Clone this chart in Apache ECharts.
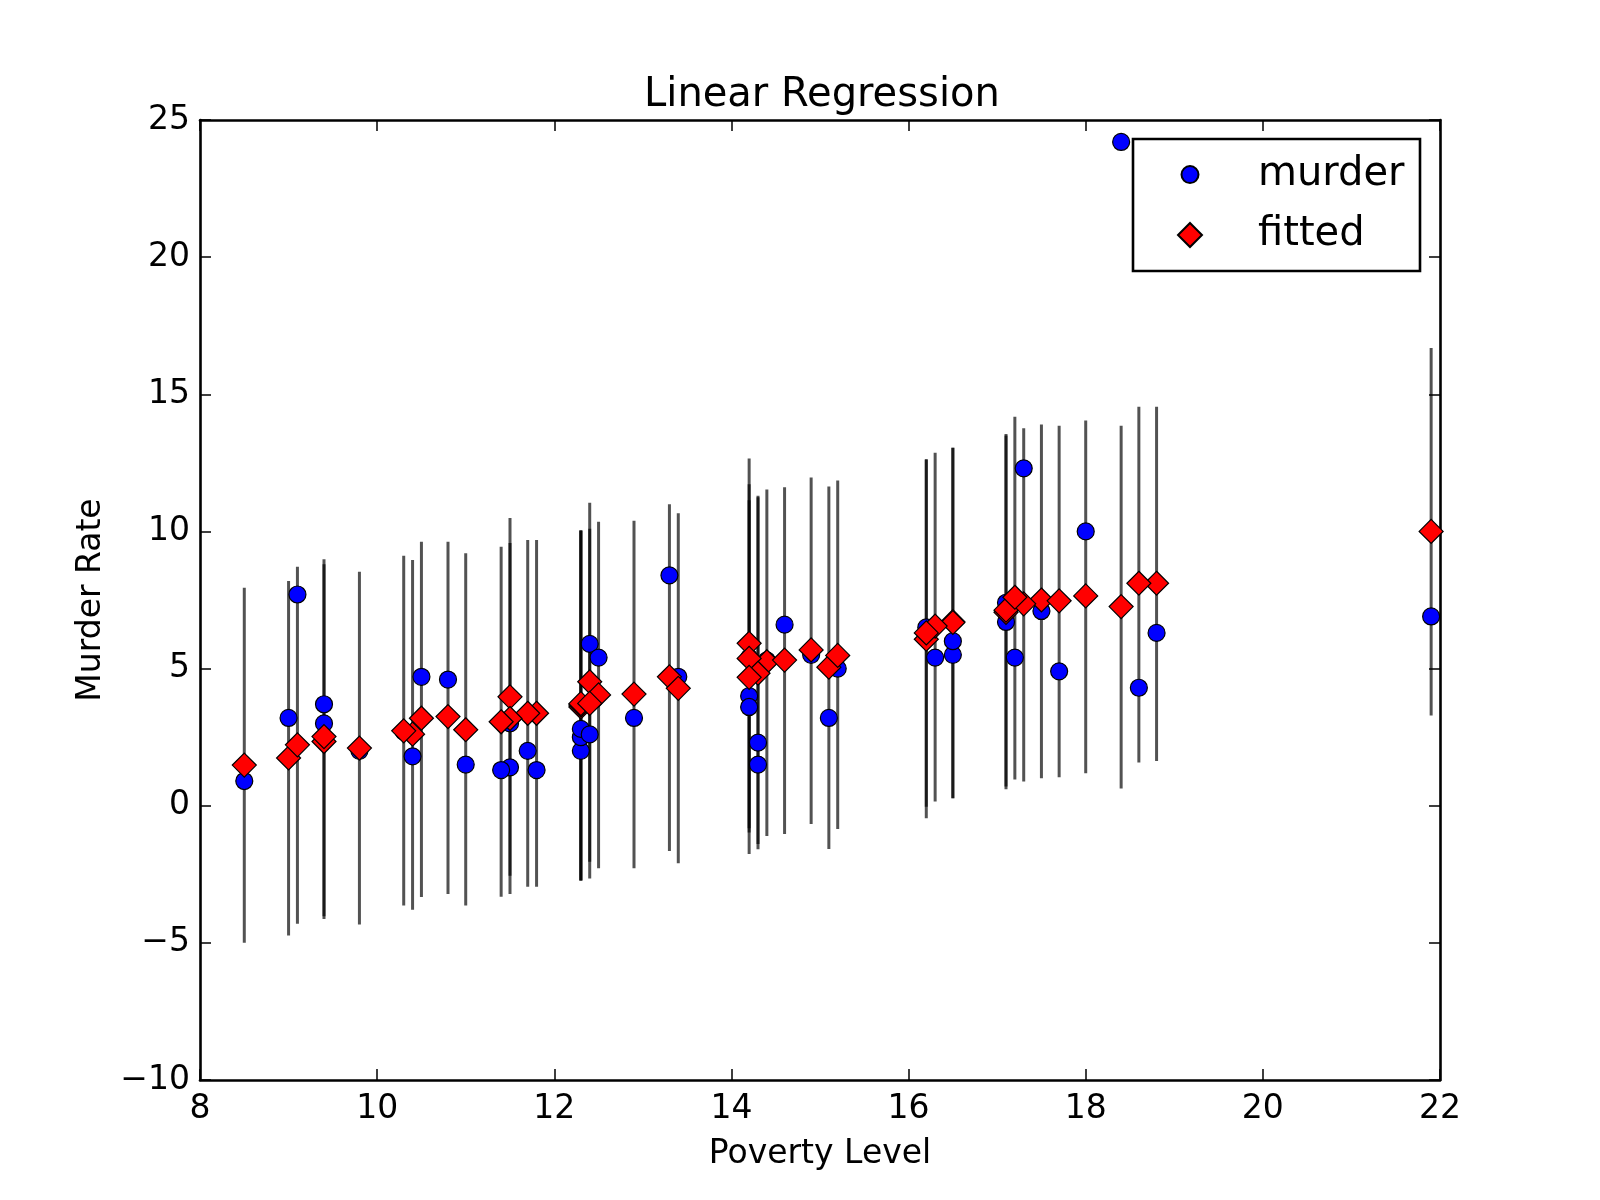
<!DOCTYPE html>
<html>
<head>
<meta charset="utf-8">
<script src="https://cdn.jsdelivr.net/npm/echarts@6/dist/echarts.min.js"></script>
<style>
html,body{margin:0;padding:0;background:#fff;}
#chart{width:1600px;height:1200px;}
</style>
</head>
<body>
<div id="chart"></div>
<script>
// State-level data
const states = ["Alabama","Alaska","Arizona","Arkansas","California","Colorado","Connecticut","Delaware","District of Columbia","Florida","Georgia","Hawaii","Idaho","Illinois","Indiana","Iowa","Kansas","Kentucky","Louisiana","Maine","Maryland","Massachusetts","Michigan","Minnesota","Mississippi","Missouri","Montana","Nebraska","Nevada","New Hampshire","New Jersey","New Mexico","New York","North Carolina","North Dakota","Ohio","Oklahoma","Oregon","Pennsylvania","Rhode Island","South Carolina","South Dakota","Tennessee","Texas","Utah","Vermont","Virginia","Washington","West Virginia","Wisconsin","Wyoming"];
const poverty = [17.5,9.0,16.5,18.8,14.2,12.9,9.4,10.8,18.4,14.9,16.5,10.4,14.3,13.3,14.4,11.8,13.4,18.6,17.3,12.3,9.1,10.3,16.2,11.0,21.9,14.6,15.1,12.3,12.4,8.5,9.4,18.0,14.2,16.3,11.7,15.2,16.2,14.3,12.5,11.5,17.1,14.2,17.1,17.2,11.5,11.4,10.5,12.3,17.7,12.4,9.8];
const murder = [7.1,3.2,5.5,6.3,5.4,3.2,3.0,4.6,24.2,5.5,6.0,1.8,1.5,8.4,5.3,1.3,4.7,4.3,12.3,2.0,7.7,2.7,6.3,1.5,6.9,6.6,3.2,2.5,5.9,0.9,3.7,10.0,4.0,5.4,2.0,5.0,6.5,2.3,5.4,3.0,6.7,3.6,7.4,5.4,1.4,1.3,4.7,2.8,4.9,2.6,2.0];
const fitted = [7.50,1.74,6.71,8.11,5.92,4.07,2.34,3.25,7.26,5.68,6.68,2.61,4.95,4.70,5.25,3.37,4.28,8.11,7.36,3.60,2.22,2.73,6.07,2.77,10.0,5.31,5.05,3.67,4.52,1.48,2.52,7.65,5.37,6.55,3.37,5.48,6.30,4.83,4.04,3.97,7.05,4.68,7.13,7.60,3.18,3.06,3.19,3.72,7.47,3.73,2.10];
const intervalLow = [1.00,-4.73,0.27,1.63,-0.82,-2.28,-4.13,-3.22,0.63,-0.67,0.27,-3.79,-1.40,-1.65,-1.10,-2.95,-2.10,1.58,0.88,-2.73,-4.30,-3.64,-0.46,-3.64,3.29,-1.03,-1.58,-2.73,-2.04,-5.00,-4.03,1.18,-0.98,0.15,-2.95,-0.85,-0.04,-1.59,-2.28,-2.55,0.60,-1.76,0.70,0.96,-3.22,-3.32,-3.33,-2.73,1.04,-2.65,-4.33];
const intervalHigh = [13.90,8.19,13.05,14.55,12.66,10.39,8.80,9.62,13.85,11.97,13.05,8.96,11.30,10.99,11.53,9.69,10.66,14.55,13.76,10.03,8.71,9.11,12.60,9.20,16.69,11.61,11.64,10.03,11.05,7.95,8.99,14.04,11.72,12.87,9.69,11.86,12.64,11.25,10.35,10.49,13.50,11.14,13.55,14.18,9.58,9.44,9.62,10.03,13.85,10.10,8.53];

const xTicks = {min: 8, max: 22, interval: 2};
const yTicks = {min: -10, max: 25, interval: 5};

const FONT = 'DejaVu Sans';
const murderData = poverty.map((x, i) => [x, murder[i]]);
const fittedData = poverty.map((x, i) => [x, fitted[i]]);
const barData = poverty.map((x, i) => [x, intervalLow[i], intervalHigh[i]]);

const fmtY = v => v < 0 ? '\u2212' + Math.abs(v) : String(v);

const chart = echarts.init(document.getElementById('chart'), null, {renderer: 'canvas'});
const axisLineStyle = {color: '#000', width: 2.6};
const option = {
  backgroundColor: '#fff',
  animation: false,
  title: {
    text: 'Linear Regression',
    left: 639, top: 71,
    textStyle: {fontFamily: FONT, fontSize: 40, fontWeight: 'normal', color: '#000', lineHeight: 40}
  },
  grid: {left: 200, right: 160, top: 120, bottom: 120, containLabel: false},
  xAxis: [{
    type: 'value', position: 'bottom', min: xTicks.min, max: xTicks.max, interval: xTicks.interval,
    name: 'Poverty Level', nameLocation: 'middle', nameGap: 58,
    nameTextStyle: {fontFamily: FONT, fontSize: 33, color: '#000'},
    axisLine: {show: true, onZero: false, lineStyle: axisLineStyle},
    axisTick: {show: true, inside: true, length: 11, lineStyle: {color: '#000', width: 1.5}},
    axisLabel: {show: true, margin: 13, fontFamily: FONT, fontSize: 33, color: '#000'},
    splitLine: {show: false}
  }, {
    type: 'value', position: 'top', min: xTicks.min, max: xTicks.max, interval: xTicks.interval,
    axisLine: {show: true, onZero: false, lineStyle: axisLineStyle},
    axisTick: {show: true, inside: true, length: 11, lineStyle: {color: '#000', width: 1.5}},
    axisLabel: {show: false},
    splitLine: {show: false}
  }],
  yAxis: [{
    type: 'value', position: 'left', min: yTicks.min, max: yTicks.max, interval: yTicks.interval,
    name: 'Murder Rate', nameLocation: 'middle', nameGap: 92, nameRotate: 90,
    nameTextStyle: {fontFamily: FONT, fontSize: 33, color: '#000'},
    axisLine: {show: true, onZero: false, lineStyle: axisLineStyle},
    axisTick: {show: true, inside: true, length: 11, lineStyle: {color: '#000', width: 1.5}},
    axisLabel: {show: true, margin: 10, fontFamily: FONT, fontSize: 33, color: '#000', formatter: fmtY},
    splitLine: {show: false}
  }, {
    type: 'value', position: 'right', min: yTicks.min, max: yTicks.max, interval: yTicks.interval,
    axisLine: {show: true, onZero: false, lineStyle: axisLineStyle},
    axisTick: {show: true, inside: true, length: 11, lineStyle: {color: '#000', width: 1.5}},
    axisLabel: {show: false},
    splitLine: {show: false}
  }],
  legend: [{
    data: [{name: 'murder', icon: 'circle'}],
    left: 1180.5, top: 150.6, padding: 0, z: 10,
    itemWidth: 17, itemHeight: 17, selectedMode: false,
    textStyle: {fontFamily: FONT, fontSize: 40, color: '#000', lineHeight: 40, padding: [8, 0, 0, 54.5]}
  }, {
    data: [{name: 'fitted', icon: 'diamond'}],
    left: 1177, top: 211.0, padding: 0, z: 10,
    itemWidth: 24, itemHeight: 24, selectedMode: false,
    textStyle: {fontFamily: FONT, fontSize: 40, color: '#000', lineHeight: 40, padding: [8, 0, 0, 51]}
  }],
  graphic: [{
    type: 'rect', z: 5,
    shape: {x: 1133, y: 139, width: 287, height: 132},
    style: {fill: '#fff', stroke: '#000', lineWidth: 2.6}
  }],
  series: [{
    name: 'interval', type: 'custom', z: 1,
    data: barData,
    encode: {x: 0, y: [1, 2]},
    silent: true,
    renderItem: function (params, api) {
      const x = api.value(0), lo = api.value(1), hi = api.value(2);
      const p1 = api.coord([x, lo]);
      const p2 = api.coord([x, hi]);
      return {
        type: 'line',
        shape: {x1: p1[0], y1: p1[1], x2: p2[0], y2: p2[1]},
        style: {stroke: 'rgba(0,0,0,0.68)', lineWidth: 3}
      };
    }
  }, {
    name: 'murder', type: 'scatter', z: 2,
    data: murderData, symbol: 'circle', symbolSize: 17,
    itemStyle: {color: '#0000ff', borderColor: '#000', borderWidth: 1.2, opacity: 1},
    emphasis: {disabled: true}
  }, {
    name: 'fitted', type: 'scatter', z: 3,
    data: fittedData, symbol: 'diamond', symbolSize: 24,
    itemStyle: {color: '#ff0000', borderColor: '#000', borderWidth: 1.2, opacity: 1},
    emphasis: {disabled: true}
  }]
};
chart.setOption(option);
</script>
</body>
</html>
